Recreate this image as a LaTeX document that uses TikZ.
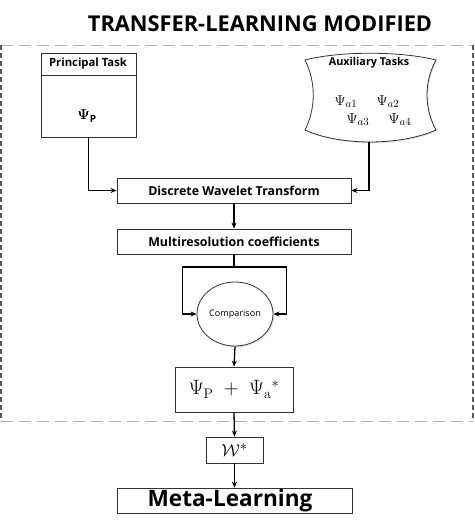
\documentclass[tikz,border=0pt]{standalone}
\usepackage{fontspec}
\setsansfont{Open Sans}
\usetikzlibrary{arrows.meta,shapes.geometric,shadows}
\newcommand{\fsz}[1]{\fontsize{#1}{#1}\selectfont}
\begin{document}
\begin{tikzpicture}[x=1pt,y=-1pt,
  box/.style={draw=black!80,line width=0.8pt,fill=white,inner sep=0pt,font=\sffamily\bfseries},
  arr/.style={line width=1.3pt,-{Stealth[length=6pt,width=5pt]}},
  shad/.style={drop shadow={opacity=0.25,shadow xshift=1.2pt,shadow yshift=-1.2pt}}]
\useasboundingbox (0,0) rectangle (474,526);
% title
\node[font=\sffamily\bfseries\fsz{21.8}] (title) at (260,24) {TRANSFER-LEARNING MODIFIED};
% dashed frame
\draw[gray!60,line width=0.9pt,dash pattern=on 12pt off 6pt] (1,45) -- (473,45);
\draw[gray!60,line width=0.9pt,dash pattern=on 12pt off 6pt] (1,421) -- (473,421);
\draw[black!65,line width=1.8pt,dash pattern=on 5pt off 3pt] (1,45) -- (1,421);
\draw[black!65,line width=1.8pt,dash pattern=on 5pt off 3pt] (473,45) -- (473,421);
% principal task
\node[box,shad,minimum width=95pt,minimum height=84pt] (pt) at (88.5,95) {};
\draw[black!80,line width=0.8pt] ([yshift=-23pt]pt.north west) -- ([yshift=-23pt]pt.north east);
\node[font=\sffamily\bfseries\fsz{11.3}] (ptl) at (88,64) {Principal Task};
\node[font=\fsz{15}] (psip) at (87,116) {{\boldmath$\Psi$}$_{\mbox{\sffamily\bfseries\fsz{10}P}}$};
% auxiliary tasks
\path[draw=black!80,line width=0.8pt,fill=white,shad]
  (305,60) .. controls (340,51) and (400,51) .. (436,60)
  .. controls (424,82) and (424,108) .. (436,130)
  .. controls (400,146) and (340,146) .. (305,130)
  .. controls (316,108) and (316,82) .. (305,60) -- cycle;
\coordinate (auxb) at (369,142);
\node[font=\sffamily\bfseries\fsz{10.8}] (auxl) at (369,63) {Auxiliary Tasks};
\node[font=\fsz{15}] (a1) at (346,102) {$\Psi_{a1}$};
\node[font=\fsz{15}] (a2) at (388,102) {$\Psi_{a2}$};
\node[font=\fsz{15}] (a3) at (358,120) {$\Psi_{a3}$};
\node[font=\fsz{15}] (a4) at (400,120) {$\Psi_{a4}$};
% DWT and MC
\node[box,shad,minimum width=234pt,minimum height=25pt,font=\sffamily\bfseries\fsz{12.4}] (dwt) at (234,190.5) {Discrete Wavelet Transform};
\node[box,shad,minimum width=234pt,minimum height=25pt,font=\sffamily\bfseries\fsz{12.4}] (mc) at (234,241.5) {Multiresolution coefficients};
% comparison
\node[ellipse,draw=black!80,line width=0.8pt,fill=white,shad,minimum width=76pt,minimum height=64pt,inner sep=0pt,font=\sffamily\fsz{9.1}] (cmp) at (235,314) {Comparison};
% psi sum
\node[box,shad,minimum width=118pt,minimum height=45pt,font=\fsz{20}] (sum) at (234,389.5) {$\Psi_{\mathrm{P}}\;+\;\Psi_{\mathrm{a}}{}^{*}$};
\node[box,shad,minimum width=57pt,minimum height=26pt,font=\fsz{19}] (w) at (234.5,450) {$\mathcal{W}^{*}$};
\node[box,shad,minimum width=235pt,minimum height=25pt,font=\sffamily\bfseries\fsz{22.6}] (meta) at (234.5,500.5) {Meta-Learning\hspace*{9pt}};
% connectors
\draw[arr] (pt.south) |- (dwt.west);
\draw[arr] (auxb) |- (dwt.east);
\draw[arr] (dwt.south) -- (mc.north);
\coordinate (split) at (234,267);
\draw[line width=1.3pt] (mc.south) -- (split);
\draw[arr] (split) -| ([xshift=-14pt]cmp.west) -- (cmp.west);
\draw[arr] (split) -| ([xshift=13pt]cmp.east) -- (cmp.east);
\draw[arr] (cmp.south) -- (sum.north);
\draw[arr] (sum.south) -- (w.north);
\draw[arr] (w.south) -- (meta.north);
\end{tikzpicture}
\end{document}
